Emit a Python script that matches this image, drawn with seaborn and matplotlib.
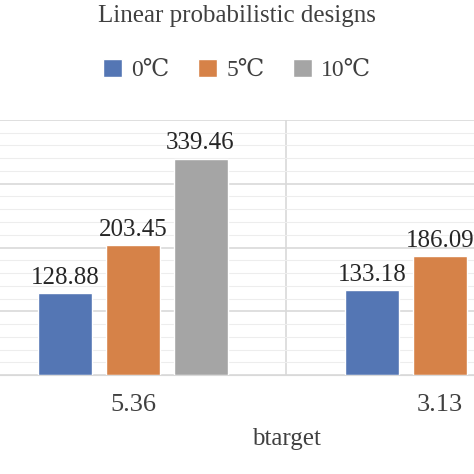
import matplotlib
matplotlib.use("Agg")
import matplotlib.pyplot as plt
import seaborn as sns
import pandas as pd
from matplotlib.ticker import MultipleLocator

categories = ["5.36", "3.13"]
temps = ["0℃", "5℃", "10℃"]
v0 = [128.88, 133.18]
v5 = [203.45, 186.09]
v10 = [339.46, 329.0]
colors = ["#4472C4", "#ED7D31", "#A5A5A5"]

rows = []
for i, c in enumerate(categories):
    for t, vals in zip(temps, [v0, v5, v10]):
        rows.append({"cat": c, "temp": t, "val": vals[i]})
df = pd.DataFrame(rows)

sns.set_style("white")
plt.rcParams["font.family"] = ["Liberation Serif", "DejaVu Serif"]
fig = plt.figure(figsize=(4.74, 4.74), dpi=100)
ax = fig.add_axes([-20.5/474, (474-375)/474, 614/474, 255/474])
sns.barplot(data=df, x="cat", y="val", hue="temp", palette=colors,
            width=0.66, gap=0.2, ax=ax, legend=True)
ax.set_xlim(-0.5, 1.5)
ax.set_ylim(0, 400)
ax.yaxis.set_major_locator(MultipleLocator(100))
ax.yaxis.set_minor_locator(MultipleLocator(20))
ax.grid(axis="y", which="major", color="#D9D9D9", lw=1.2)
ax.grid(axis="y", which="minor", color="#EDEDED", lw=0.8)
ax.set_axisbelow(True)
ax.axvline(0.5, color="#D9D9D9", lw=1.2, zorder=0)
ax.tick_params(axis="y", left=False, labelleft=False, which="both")
ax.tick_params(axis="x", length=0, labelsize=19, colors="#404040", pad=14)
for s in ["top", "right", "left"]:
    ax.spines[s].set_visible(False)
ax.spines["bottom"].set_color("#D9D9D9")
for cont in ax.containers:
    ax.bar_label(cont, fmt="%.2f", fontsize=18, color="#262626", padding=3)
ax.set_xlabel("btarget", fontsize=18, color="#404040", labelpad=8)
ax.set_ylabel("")
ax.legend(loc="center", bbox_to_anchor=(237/474, 1 - 70/474), bbox_transform=fig.transFigure,
          ncol=3, frameon=False, fontsize=17, handlelength=0.8, handleheight=0.8,
          columnspacing=1.2, handletextpad=0.4, labelcolor="#404040")
fig.text(237/474, 1 - 16/474, "Linear probabilistic designs", ha="center", va="center",
         fontsize=18, color="#404040")
fig.savefig("out.png", dpi=100)
